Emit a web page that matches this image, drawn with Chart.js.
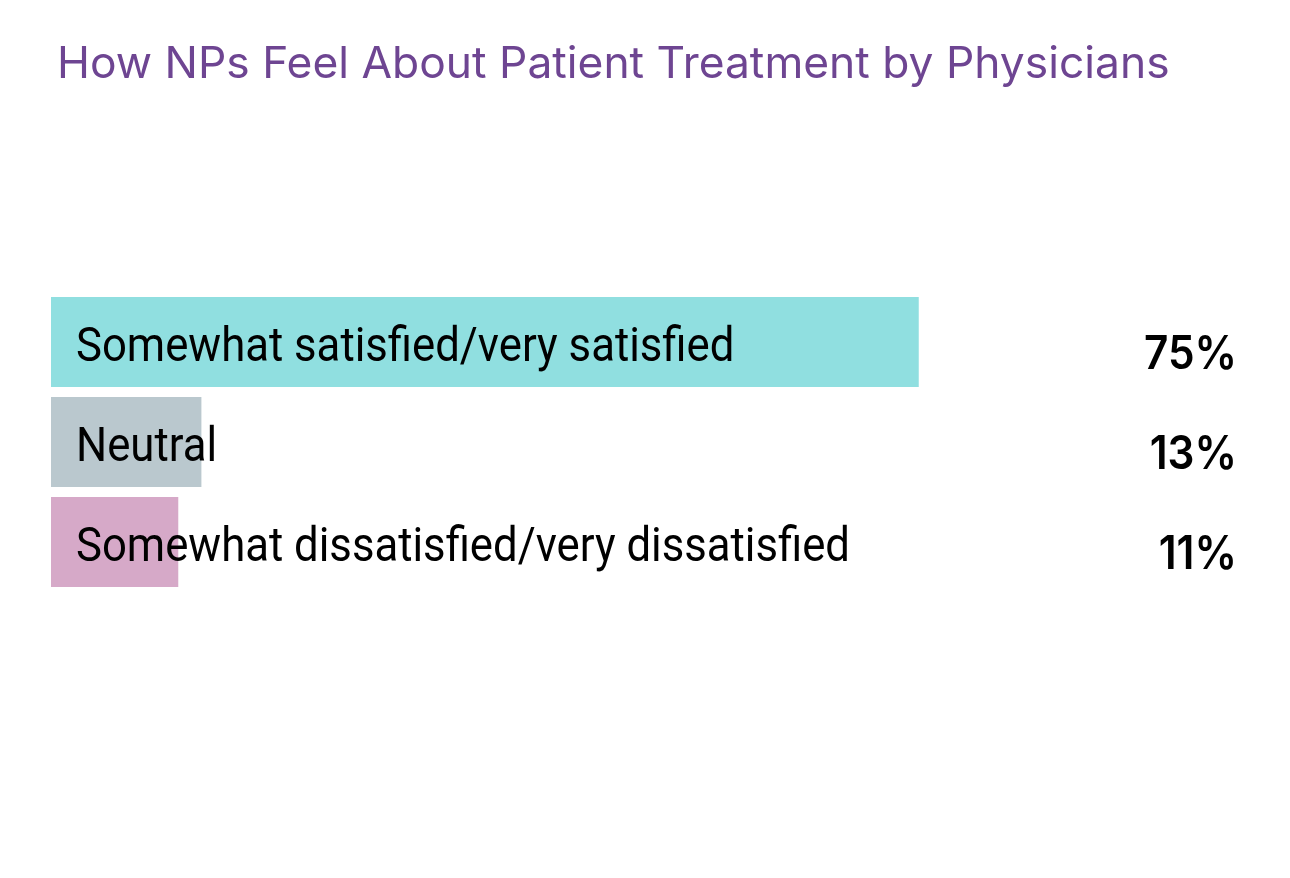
<!DOCTYPE html>
<html><head><meta charset="utf-8">
<script src="https://cdn.jsdelivr.net/npm/chart.js@4"></script>
<style>html,body{margin:0;padding:0;background:#fff}#wrap{width:1290px;height:878px}</style>
</head><body><div id="wrap"><canvas id="c" width="1290" height="878"></canvas></div>
<script>
const title = "How NPs Feel About Patient Treatment by Physicians";
const categories = ["Somewhat satisfied/very satisfied", "Neutral", "Somewhat dissatisfied/very dissatisfied"];
const values = [75, 13, 11];
const valueLabels = ["75%", "13%", "11%"];
const colors = ["#90dfe0", "#bac8ce", "#d6a9c8"];

const textPlugin = {
  id: 'texts',
  afterDatasetsDraw(chart) {
    const ctx = chart.ctx;
    const meta = chart.getDatasetMeta(0);
    ctx.save();
    ctx.fillStyle = "#6e4592";
    ctx.font = "400 44px Inter";
    ctx.textBaseline = "alphabetic";
    ctx.textAlign = "left";
    ctx.translate(57, 78);
    ctx.scale(1.008, 1);
    ctx.fillText(title, 0, 0);
    ctx.restore();
    ctx.save();
    ctx.textBaseline = "alphabetic";
    meta.data.forEach((bar, i) => {
      const y = bar.y;
      ctx.save();
      ctx.fillStyle = "#000";
      ctx.font = "400 48px Roboto";
      ctx.textAlign = "left";
      ctx.translate(chart.chartArea.left + 25, y + 19);
      ctx.scale(0.91, 1);
      ctx.fillText(categories[i], 0, 0);
      ctx.restore();
      ctx.save();
      ctx.fillStyle = "#000";
      ctx.font = "600 46px Inter";
      ctx.textAlign = "right";
      ctx.translate(1237, y + 27);
      ctx.scale(0.92, 1);
      ctx.fillText(valueLabels[i], 0, 0);
      ctx.restore();
    });
    ctx.restore();
  }
};

new Chart(document.getElementById('c'), {
  type: 'bar',
  data: {
    labels: categories,
    datasets: [{ data: values, backgroundColor: colors, borderWidth: 0, barPercentage: 0.9, categoryPercentage: 1 }]
  },
  options: {
    indexAxis: 'y',
    responsive: false,
    animation: false,
    layout: { padding: { left: 51, top: 292, right: 82, bottom: 286 } },
    scales: {
      x: { display: false, min: 0, max: 100 },
      y: { display: false }
    },
    plugins: { legend: { display: false }, tooltip: { enabled: false }, title: { display: false } }
  },
  plugins: [textPlugin]
});
</script></body></html>
